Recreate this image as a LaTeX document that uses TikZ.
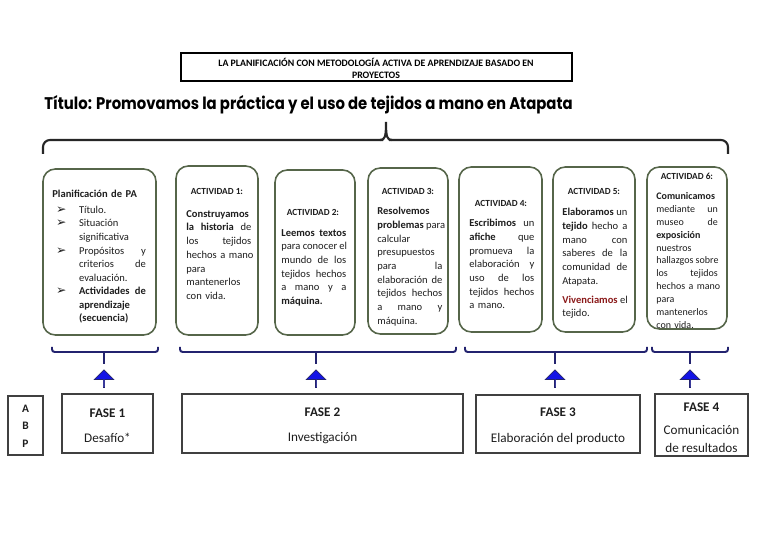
\documentclass[tikz,border=0pt]{standalone}
\usepackage{fontspec}
\setmainfont{Carlito}
\newfontfamily\titlefont{Poppins}
\newfontfamily\symfont{DejaVu Sans}
\usetikzlibrary{fit,shapes.arrows,positioning}
\definecolor{boxgreen}{HTML}{56664A}
\definecolor{navy}{HTML}{23236F}
\definecolor{arrowblue}{HTML}{1414E6}
\definecolor{vivred}{HTML}{8B1A1A}
\definecolor{textgray}{HTML}{1E1E1E}
\tolerance=10000 \hbadness=10000 \hfuzz=20pt \hyphenpenalty=10000
% justified line, marker and indent for the list
\newcommand{\jl}[2][37pt]{\leavevmode\hbox to #1{\spaceskip=0.22em plus 1fil\relax #2}}
\newcommand{\mk}{\hspace*{2.2pt}\makebox[13pt][l]{\symfont\fontsize{7}{7}\selectfont\char"27A2}}
\newcommand{\ind}{\hspace*{15.2pt}}

\begin{document}
\begin{tikzpicture}[x=0.02cm, y=-0.02cm,
    actbox/.style={draw=boxgreen, line width=0.9pt, rounded corners=7pt, inner sep=0pt},
    acthead/.style={font=\bfseries\fontsize{5.3}{6.5}\selectfont, text=textgray, inner sep=0pt},
    acttext/.style={anchor=north west, text width=50pt, align=left, inner sep=0pt,
      font=\fontsize{6}{7.8}\selectfont, text=textgray},
    fasebox/.style={draw=black!75, line width=0.8pt, inner sep=0pt},
    fasetext/.style={align=center, inner sep=0pt, font=\fontsize{7.5}{9}\selectfont, text=textgray},
    bracket/.style={draw=navy, line width=1.1pt, rounded corners=1.5pt},
    bigbrace/.style={draw=black!85, line width=1.2pt, rounded corners=4pt},
    uparrow/.style={single arrow, shape border rotate=90, draw=navy, fill=arrowblue,
      minimum height=10pt, minimum width=11pt, single arrow head extend=3pt, inner sep=0pt}]
  \useasboundingbox (0,0) rectangle (768,543);
  \fill[white] (0,0) rectangle (768,543);

  % cabecera
  \node[draw=black, line width=0.6pt, fit={(181,53) (572,81)}, inner sep=0pt] (encabezado) {};
  \node[align=center, inner sep=0pt, font=\bfseries\fontsize{5.6}{6.8}\selectfont] (enctexto) at (376,68)
    {LA PLANIFICACIÓN CON METODOLOGÍA ACTIVA DE APRENDIZAJE BASADO EN\\PROYECTOS};
  \node[anchor=west, inner sep=0pt, font=\titlefont\bfseries\fontsize{9.6}{12}\selectfont] (titulo) at (44,105)
    {\scalebox{0.88}[1]{Título: Promovamos la práctica y el uso de tejidos a mano en Atapata}};

  % llave grande
  \draw[bigbrace] (43,154) -- (43,140) -- (383,140);
  \draw[bigbrace] (389,140) -- (728,140) -- (728,154);
  \draw[black!85, line width=1.2pt] (380,140) .. controls (385,140) and (386,137) .. (386,122)
    .. controls (386,137) and (387,140) .. (392,140);

  % cajas
  \node[actbox, fit={(43,169) (156,335)}] (pa) {};
  \node[actbox, fit={(176,166) (258,335)}] (a1) {};
  \node[actbox, fit={(275,170) (355,335)}] (a2) {};
  \node[actbox, fit={(368,168) (448,334)}] (a3) {};
  \node[actbox, fit={(459,167) (542,332)}] (a4) {};
  \node[actbox, fit={(553,167) (635,332)}] (a5) {};
  \node[actbox, fit={(647,167) (727,329)}] (a6) {};

  \node[acttext, text width=62pt, font=\fontsize{6}{7.7}\selectfont] (patext) at (52,189.5)
    {\textbf{Planificación de PA}\\[1.5pt]
     \mk Título.\\
     \mk Situación\\
     \ind significativa\\
     \mk\jl[38pt]{Propósitos y}\\
     \ind\jl[38pt]{criterios de}\\
     \ind evaluación.\\
     \mk\jl[38pt]{\textbf{Actividades de}}\\
     \ind\textbf{aprendizaje}\\
     \ind\textbf{(secuencia)}};

  \node[acthead] (h1) at (217,191) {ACTIVIDAD 1:};
  \node[acttext] (t1) at (186,210)
    {\textbf{Construyamos}\\ \jl{\textbf{la historia} de}\\ \jl{los tejidos}\\ hechos a mano\\ para\\ mantenerlos\\ con vida.};
  \node[acthead] (h2) at (313,212) {ACTIVIDAD 2:};
  \node[acttext] (t2) at (281,229)
    {\jl{\textbf{Leemos textos}}\\ \jl{para conocer el}\\ \jl{mundo de los}\\ \jl{tejidos hechos}\\ \jl{a mano y a}\\ \textbf{máquina.}};
  \node[acthead] (h3) at (408,191) {ACTIVIDAD 3:};
  \node[acttext] (t3) at (377,207)
    {\textbf{Resolvemos}\\ \jl{\textbf{problemas} para}\\ calcular\\ presupuestos\\ \jl{para la}\\ \jl{elaboración de}\\ \jl{tejidos hechos}\\ \jl{a mano y}\\ máquina.};
  \node[acthead] (h4) at (501,203) {ACTIVIDAD 4:};
  \node[acttext] (t4) at (469,219)
    {\jl{\textbf{Escribimos} un}\\ \jl{\textbf{afiche} que}\\ \jl{promueva la}\\ \jl{elaboración y}\\ \jl{uso de los}\\ \jl{tejidos hechos}\\ a mano.};
  \node[acthead] (h5) at (594,191) {ACTIVIDAD 5:};
  \node[acttext] (t5) at (562,208)
    {\jl{\textbf{Elaboramos} un}\\ \jl{\textbf{tejido} hecho a}\\ \jl{mano con}\\ \jl{saberes de la}\\ \jl{comunidad de}\\ Atapata.\\[3pt]
     \jl{\textcolor{vivred}{\textbf{Vivenciamos}} el}\\ tejido.};
  \node[acthead] (h6) at (687,176) {ACTIVIDAD 6:};
  \node[acttext, font=\fontsize{5.7}{7.35}\selectfont] (t6) at (656,192)
    {\textbf{Comunicamos}\\ \jl[35pt]{mediante un}\\ \jl[35pt]{museo de}\\ \textbf{exposición}\\ nuestros\\ \jl[35pt]{hallazgos sobre}\\ \jl[35pt]{los tejidos}\\ hechos a mano\\ para\\ mantenerlos\\ con vida.};

  % flechas
  \node[uparrow] (ar1) at (104,379) {};
  \node[uparrow] (ar2) at (316,379) {};
  \node[uparrow] (ar3) at (555,379) {};
  \node[uparrow] (ar4) at (690,379) {};

  % corchetes
  \draw[bracket] (52,347) -- (52,352) -- (158,352) -- (158,347);
  \draw[bracket] (180,347) -- (180,352) -- (456,352) -- (456,347);
  \draw[bracket] (465,347) -- (465,352) -- (647,352) -- (647,347);
  \draw[bracket] (652,347) -- (652,352) -- (728,352) -- (728,347);
  \foreach \a in {ar1,ar2,ar3,ar4}
    \draw[navy, line width=1.1pt, shorten >=2.8pt] (\a.north |- 0,352) -- (\a.north);

  % fases
  \node[fasebox, fit={(8,396) (43,455)}] (abp) {};
  \node[fasetext, font=\bfseries\fontsize{6.5}{10}\selectfont] (abptexto) at ([yshift=-0.4pt]abp.center) {A\\B\\P};
  \node[fasebox, fit={(62,394) (153,453)}] (fase1) {};
  \node[fasetext] (f1texto) at ([yshift=-1.2pt]fase1.center) {\textbf{FASE 1}\\[5.5pt]Desafío*};
  \node[fasebox, fit={(182,394) (463,453)}] (fase2) {};
  \node[fasetext] (f2texto) at ([yshift=-1.2pt]fase2.center) {\textbf{FASE 2}\\[5.5pt]Investigación};
  \node[fasebox, fit={(476,395) (640,453)}] (fase3) {};
  \node[fasetext] (f3texto) at ([yshift=-1.2pt]fase3.center) {\textbf{FASE 3}\\[5.5pt]Elaboración del producto};
  \node[fasebox, fit={(655,394) (748,456)}] (fase4) {};
  \node[fasetext] (f4texto) at ([yshift=-1.4pt]fase4.center) {\textbf{FASE 4}\\[4.5pt]Comunicación\\[0.8pt]de resultados};
\end{tikzpicture}
\end{document}
